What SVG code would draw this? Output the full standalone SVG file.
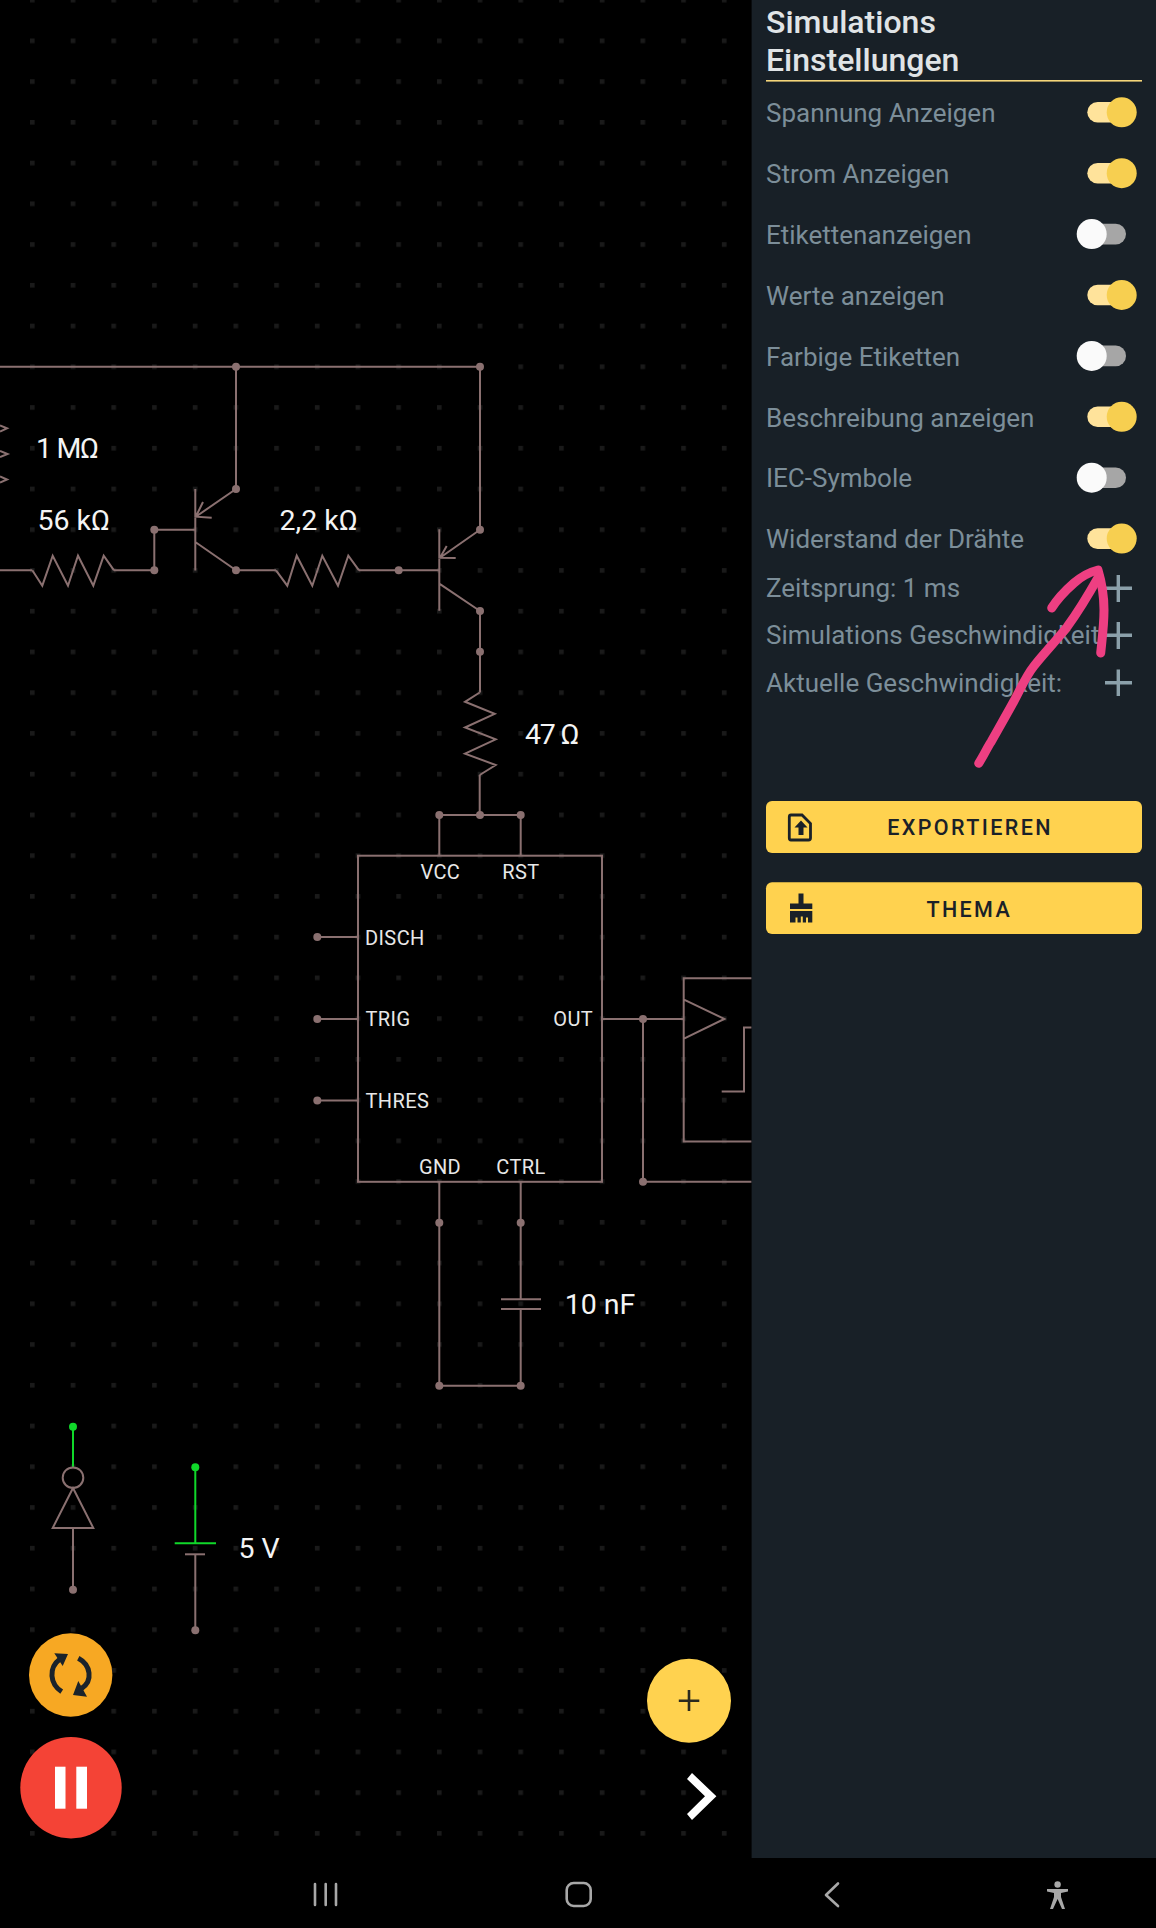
<svg xmlns="http://www.w3.org/2000/svg" width="1156" height="1928" viewBox="0 0 1156 1928">
<style>
.w{fill:none;stroke:#8a7070;stroke-width:2;stroke-linejoin:miter}
.g{fill:none;stroke:#10d82a;stroke-width:2}
.j{fill:#8a7070}
.gj{fill:#10d82a}
text{font-family:Roboto,"Liberation Sans",sans-serif}
.v{font-size:28.5px;fill:#f4f4f4}
.p{font-size:20px;fill:#e8e8e8;letter-spacing:.4px}
.t{font-size:32px;font-weight:500;fill:#e0e4e6}
.l{font-size:26px;fill:#7c8e99}
.b{font-size:21.5px;font-weight:500;fill:#1a2128;letter-spacing:2.4px;text-anchor:middle}
.tr{fill:#ffe39b}
.tk{fill:#f7cf50}
.off{fill:#a6a6a6}
.ok{fill:#fafafa}
.pl{fill:none;stroke:#8ba0aa;stroke-width:3.4}
.btn{fill:#ffd24f}
.nav{fill:none;stroke:#a8a8a8;stroke-width:2.6;stroke-linecap:round;stroke-linejoin:round}
</style>
<defs>
<pattern id="dots" patternUnits="userSpaceOnUse" x="30" y="38.5" width="40.7" height="40.74"><rect x="0" y="0" width="4.6" height="4.6" fill="#1a1a1a"/></pattern>
</defs>
<rect width="1156" height="1928" fill="#000"/>
<rect id="grid" x="0" y="0" width="751" height="1858" fill="url(#dots)"/>

<g id="connectors">
<path class="w" d="M0 366.7H480M236 366.7V489M480 366.7V529.7"/>
<path class="w" d="M154.3 529.7H195.3M154.3 529.7V570.3M0 570.3H32.3M114 570.3H154.3"/>
<path class="w" d="M236 570.3H276M359 570.3H439.3"/>
<path class="w" d="M480 611V692.5M479.7 775V815M439.3 815H520.7M439.3 815V855.7M520.7 815V855.7"/>
<path class="w" d="M317.3 937.1H358M317.3 1018.9H358M317.3 1100.4H358"/>
<path class="w" d="M602 1018.9H683.7M643 1018.9V1181.8H751.6"/>
<path class="w" d="M439.3 1181.8V1385.7H520.7V1309M520.7 1181.8V1299.3"/>
<path class="w" d="M73 1528V1589.7M195.3 1554.3V1630.3"/>
<path class="g" d="M73 1426.7V1467.3M195.3 1467.3V1543.3"/>
</g>

<g id="r-1M"><polyline class="w" points="0,425.5 7,428.3 0,431.5"/><polyline class="w" points="0,451 7.5,454 0,457"/><polyline class="w" points="0,476.5 7,479.5 0,482.5"/><text class="v" x="36" y="458.3" textLength="63">1 MΩ</text></g>
<g id="r-56k"><polyline class="w" points="32.3,570.3 42.3,585.7 52.7,555.7 68,585.7 78,555.7 93.3,585.7 103.7,555.7 114,570.3"/><text class="v" x="37.5" y="530">56 kΩ</text></g>
<g id="r-2k2"><polyline class="w" points="276,570.3 287.3,585.7 296.7,555.7 312.3,585.7 322.3,555.7 338,585.7 348.3,555.7 359,570.3"/><text class="v" x="279.5" y="530">2,2 kΩ</text></g>
<g id="q1"><path class="w" d="M195.3 489V570.5M236 489L195.8 516.7M203 502L195.8 516.7L211.7 517.7M195.3 542L236 570.3"/></g>
<g id="q2"><path class="w" d="M439.3 529.3V610.7M480 529.7L440 557.7M446.7 546L440 557.7L455.7 558M439.3 583.7L480 611"/></g>
<g id="r-47"><polyline class="w" points="479.7,692.5 465,701.8 494.7,713.9 465,727.5 495.7,739.3 465,753.6 495.7,765 479.7,775"/><text class="v" x="525" y="743.6" textLength="54.5">47 Ω</text></g>
<g id="timer555">
<rect class="w" x="358" y="855.7" width="244" height="326.1"/>
<text class="p" x="440.3" y="878.6" text-anchor="middle">VCC</text>
<text class="p" x="521" y="878.6" text-anchor="middle">RST</text>
<text class="p" x="365" y="944.6">DISCH</text>
<text class="p" x="365.5" y="1026.4">TRIG</text>
<text class="p" x="365.5" y="1107.9">THRES</text>
<text class="p" x="553.3" y="1026.4">OUT</text>
<text class="p" x="440" y="1173.9" text-anchor="middle">GND</text>
<text class="p" x="521" y="1173.9" text-anchor="middle">CTRL</text>
</g>
<g id="schmitt"><path class="w" d="M751.6 978.2H683.7V1141.4H751.6M684 999.6L724.3 1018.9L684 1038.6M721.7 1091.4H744V1027.5H751.6"/></g>
<g id="cap"><path class="w" d="M501 1299.3H541M501 1309H541"/><text class="v" x="564.7" y="1314">10 nF</text></g>
<g id="inverter"><circle class="w" cx="73" cy="1477.7" r="10.3"/><path class="w" d="M73 1488L52.7 1528H93.3Z"/></g>
<g id="battery"><path class="g" d="M174.7 1543.3H216"/><path class="w" d="M185 1554.3H205"/><text class="v" x="238.5" y="1558">5 V</text></g>

<g id="junctions">
<circle class="j" cx="236" cy="366.7" r="4"/><circle class="j" cx="480" cy="366.7" r="4"/>
<circle class="j" cx="236" cy="489" r="4"/><circle class="j" cx="154.3" cy="529.7" r="4"/>
<circle class="j" cx="154.3" cy="570.3" r="4"/><circle class="j" cx="236" cy="570.3" r="4"/>
<circle class="j" cx="398.7" cy="570.3" r="4"/><circle class="j" cx="480" cy="529.7" r="4"/>
<circle class="j" cx="480" cy="611" r="4"/><circle class="j" cx="480" cy="651.8" r="4"/>
<circle class="j" cx="439.3" cy="815" r="4"/><circle class="j" cx="480" cy="815" r="4"/>
<circle class="j" cx="520.7" cy="815" r="4"/><circle class="j" cx="317.3" cy="937.1" r="4"/>
<circle class="j" cx="317.3" cy="1018.9" r="4"/><circle class="j" cx="317.3" cy="1100.4" r="4"/>
<circle class="j" cx="643" cy="1018.9" r="4"/><circle class="j" cx="643" cy="1181.8" r="4"/>
<circle class="j" cx="439.3" cy="1222.7" r="4"/><circle class="j" cx="520.7" cy="1222.7" r="4"/>
<circle class="j" cx="439.3" cy="1385.7" r="4"/><circle class="j" cx="520.7" cy="1385.7" r="4"/>
<circle class="j" cx="73" cy="1589.7" r="4"/><circle class="j" cx="195.3" cy="1630.3" r="4"/>
<circle class="gj" cx="73" cy="1426.7" r="4"/><circle class="gj" cx="195.3" cy="1467.3" r="4"/>
</g>

<g id="btn-refresh">
<circle cx="70.7" cy="1675" r="41.7" fill="#f7a823"/>
<path d="M61.7 1691.7C50 1684 48 1668 60 1659M78.3 1658.3C91 1665 93 1681 81.7 1688.3" fill="none" stroke="#1b232b" stroke-width="5"/>
<path d="M54.3 1653.3L68 1654L62.7 1666ZM73 1695L87 1696.7L78.3 1681Z" fill="#1b232b"/>
</g>
<g id="btn-pause">
<circle cx="71" cy="1787.7" r="50.7" fill="#f44336"/>
<rect x="55" y="1766.7" width="10.5" height="42" fill="#fff"/><rect x="76.3" y="1766.7" width="10.7" height="42" fill="#fff"/>
</g>
<g id="btn-add">
<circle cx="689" cy="1700.7" r="42" fill="#ffd24f"/>
<path d="M678.8 1700.7H699.3M689 1690V1711" fill="none" stroke="#2a2a1e" stroke-width="2.6"/>
</g>
<polygon id="chevron" fill="#fff" points="692,1773 716.4,1796.3 692,1820 687,1814 705,1796.3 687,1779"/>

<g id="panel">
<rect x="751.6" y="0" width="404.4" height="1858" fill="#182027"/>
<text class="t" x="766" y="33">Simulations</text>
<text class="t" x="766" y="71">Einstellungen</text>
<rect x="766" y="80" width="376" height="1.6" fill="#f5d67a"/>
</g>
<g id="row-spannung"><text class="l" x="766" y="122">Spannung Anzeigen</text><rect class="tr" x="1087.3" y="102" width="42" height="20.6" rx="10.3"/><circle class="tk" cx="1121.7" cy="112.3" r="15"/></g>
<g id="row-strom"><text class="l" x="766" y="183">Strom Anzeigen</text><rect class="tr" x="1087.3" y="162.9" width="42" height="20.6" rx="10.3"/><circle class="tk" cx="1121.7" cy="173.2" r="15"/></g>
<g id="row-etiketten"><text class="l" x="766" y="243.5">Etikettenanzeigen</text><rect class="off" x="1084" y="223.8" width="42" height="20.6" rx="10.3"/><circle class="ok" cx="1091.7" cy="234.1" r="15"/></g>
<g id="row-werte"><text class="l" x="766" y="304.6">Werte anzeigen</text><rect class="tr" x="1087.3" y="284.7" width="42" height="20.6" rx="10.3"/><circle class="tk" cx="1121.7" cy="295" r="15"/></g>
<g id="row-farbige"><text class="l" x="766" y="365.5">Farbige Etiketten</text><rect class="off" x="1084" y="345.6" width="42" height="20.6" rx="10.3"/><circle class="ok" cx="1091.7" cy="355.9" r="15"/></g>
<g id="row-beschreibung"><text class="l" x="766" y="426.5">Beschreibung anzeigen</text><rect class="tr" x="1087.3" y="406.5" width="42" height="20.6" rx="10.3"/><circle class="tk" cx="1121.7" cy="416.8" r="15"/></g>
<g id="row-iec"><text class="l" x="766" y="487.4">IEC-Symbole</text><rect class="off" x="1084" y="467.4" width="42" height="20.6" rx="10.3"/><circle class="ok" cx="1091.7" cy="477.7" r="15"/></g>
<g id="row-widerstand"><text class="l" x="766" y="548.3">Widerstand der Drähte</text><rect class="tr" x="1087.3" y="528.3" width="42" height="20.6" rx="10.3"/><circle class="tk" cx="1121.7" cy="538.6" r="15"/></g>
<g id="row-zeit"><text class="l" x="766" y="597.3">Zeitsprung: 1 ms</text><path class="pl" d="M1105 588.3H1132M1118.3 575V602"/></g>
<g id="row-sim"><text class="l" x="766" y="644.3">Simulations Geschwindigkeit</text><path class="pl" d="M1105 635.3H1132M1118.3 622V649"/></g>
<g id="row-akt"><text class="l" x="766" y="691.7">Aktuelle Geschwindigkeit:</text><path class="pl" d="M1105 682.7H1132M1118.3 669.4V696"/></g>

<g id="btn-export">
<rect class="btn" x="766" y="801" width="376" height="52" rx="6"/>
<path d="M791 815H802L810.5 823.5V838Q810.5 840 808.5 840H791Q789.3 840 789.3 838V817Q789.3 815 791 815Z" fill="none" stroke="#1a2128" stroke-width="2.8"/>
<path d="M801 820.5L807.5 827.5H803.5V835H798.5V827.5H794.5Z" fill="#1a2128"/>
<text class="b" x="970" y="835.3">EXPORTIEREN</text>
</g>
<g id="btn-thema">
<rect class="btn" x="766" y="882.3" width="376" height="51.7" rx="6"/>
<path d="M798.5 893.5H803.5V903.5H812.3V909H790V903.5H798.5Z" fill="#1a2128"/>
<path d="M790 911H812.3V922.5H808V917.5H806V922.5H802.8V916.5H800.8V922.5H797.5V917.5H795.5V922.5H790Z" fill="#1a2128"/>
<text class="b" x="969.3" y="916.7">THEMA</text>
</g>

<g id="annotation" fill="none" stroke="#ee3f82" stroke-width="9" stroke-linecap="round" stroke-linejoin="round">
<path d="M978.7 763.3C984 755 987 748 991 742C1000 726 1008 712 1014 701C1021 688 1026 676 1034 666C1045 652 1056 641 1067 627C1078 612 1090 592 1099 576"/>
<path d="M1051.7 608C1058 598 1066 590 1074 583C1082 576 1090 572 1098 570C1101 580 1104 595 1104 610C1104 625 1102 640 1100.7 653"/>
</g>

<g id="navbar">
<path class="nav" d="M315 1884V1905M325.7 1884V1905M336 1884V1905"/>
<rect class="nav" x="566.7" y="1883" width="24" height="23" rx="7"/>
<path class="nav" d="M838 1883.5L826 1895L838 1906"/>
<circle cx="1057.6" cy="1884.5" r="3.2" fill="#a8a8a8"/>
<path d="M1047 1889H1068V1891.6L1061 1893V1897L1065 1909H1062L1057.6 1899L1053 1909H1050L1054 1897V1893L1047 1891.6Z" fill="#a8a8a8"/>
</g>
</svg>
